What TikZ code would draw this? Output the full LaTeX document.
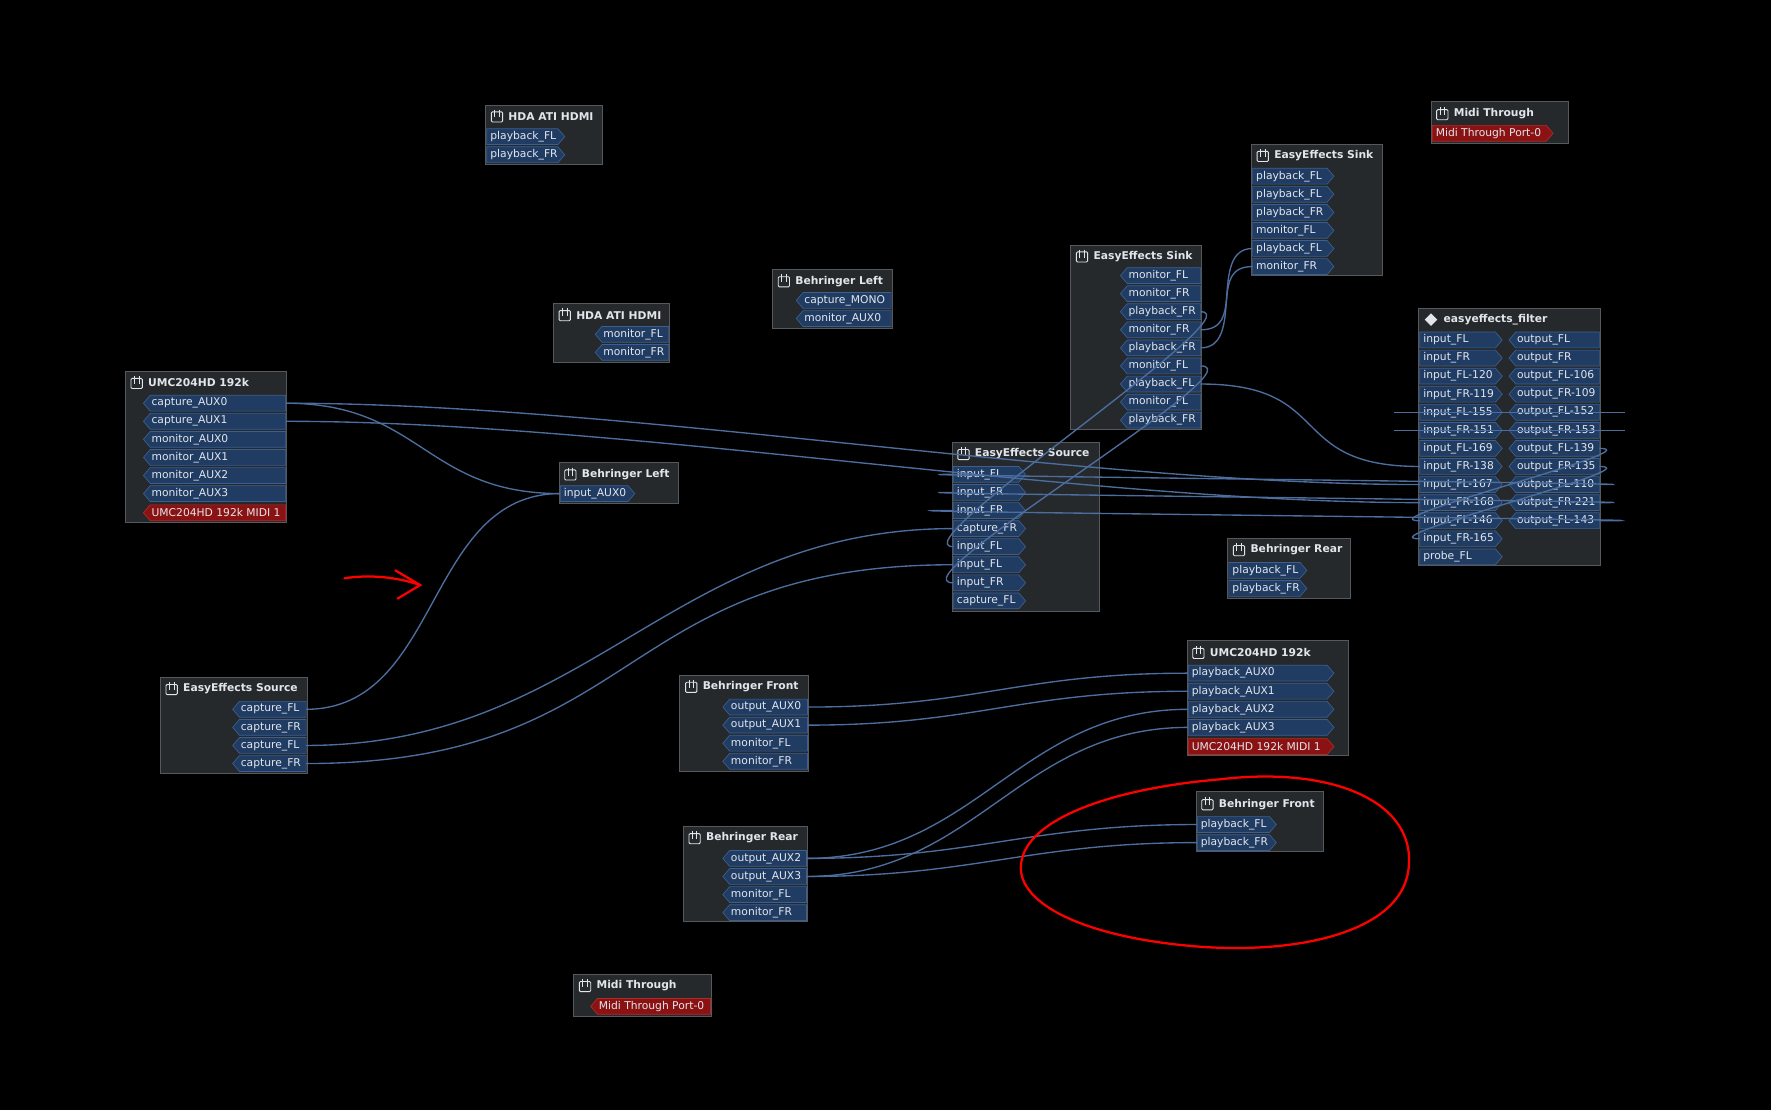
\documentclass[tikz,border=0pt]{standalone}
\usepackage{fontspec}
\setmainfont{DejaVu Sans}
\definecolor{bg}{HTML}{000000}
\definecolor{boxf}{HTML}{26292C}
\definecolor{boxd}{HTML}{55585C}
\definecolor{portf}{HTML}{213C63}
\definecolor{portd}{HTML}{3D5F8E}
\definecolor{redf}{HTML}{8A1212}
\definecolor{redd}{HTML}{B02A2A}
\definecolor{txt}{HTML}{E2E6EC}
\definecolor{cab}{HTML}{4C6E9E}
\tikzset{
 boxst/.style={fill=boxf,draw=boxd,line width=0.8pt},
 portst/.style={fill=portf,draw=portd,line width=0.6pt},
 redst/.style={fill=redf,draw=redd,line width=0.6pt},
 ptxt/.style={text=txt,font=\fontsize{9.5}{10}\selectfont,inner sep=0pt},
 ttxt/.style={text=txt,font=\fontsize{9.5}{10}\selectfont\bfseries,inner sep=0pt,anchor=west},
 cable/.style={draw=cab,line width=1.2pt},
 ann/.style={draw=red,line width=2pt,line cap=round}
}
% right pointed port: x1,x2,y,text,name,style
\newcommand\pR[6]{\draw[#6] (#1,#3-7) -- (#2-6,#3-7) -- (#2,#3) -- (#2-6,#3+7) -- (#1,#3+7) -- cycle;
 \node[ptxt,anchor=west] (#5) at (#1+3,#3) {#4};
 \coordinate (#5-l) at (#1,#3); \coordinate (#5-r) at (#2,#3);}
% left pointed port
\newcommand\pL[6]{\draw[#6] (#1+6,#3-7) -- (#2,#3-7) -- (#2,#3+7) -- (#1+6,#3+7) -- (#1,#3) -- cycle;
 \node[ptxt,anchor=west] (#5) at (#1+7,#3) {#4};
 \coordinate (#5-l) at (#1,#3); \coordinate (#5-r) at (#2,#3);}
% module: x1,y1,x2,y2,title,titley,name
\newcommand\modu[7]{\draw[boxst] (#1,#2) rectangle (#3,#4) coordinate (#7);
 \draw[txt,line width=0.8pt,rounded corners=1pt] (#1+5,#6-4) rectangle (#1+15,#6+5);
 \draw[txt,line width=0.7pt] (#1+8,#6-6) -- (#1+8,#6+1) (#1+12,#6-6) -- (#1+12,#6+1);
 \node[ttxt] (#7-t) at (#1+20,#6) {#5};}
\newcommand\cabk[3]{\draw[cable] (#1) .. controls +(#3,0) and +(-#3,0) .. (#2);}
\begin{document}
\begin{tikzpicture}[x=1pt,y=-1pt]
\fill[bg] (0,0) rectangle (1568,983);
\useasboundingbox (0,0) rectangle (1568,983);
% modules
\modu{430}{93}{533}{146}{HDA ATI HDMI}{103}{m1}
\pR{431}{500}{121}{playback\_FL}{a1}{portst}
\pR{431}{500}{137}{playback\_FR}{a2}{portst}
\modu{490}{269}{593}{321}{HDA ATI HDMI}{279}{m2}
\pL{527}{592}{296}{monitor\_FL}{b1}{portst}
\pL{527}{592}{312}{monitor\_FR}{b2}{portst}
\modu{684}{239}{790}{291}{Behringer Left}{249}{m3}
\pL{705}{789}{266}{capture\_MONO}{c1}{portst}
\pL{705}{789}{282}{monitor\_AUX0}{c2}{portst}
\modu{1267}{90}{1389}{127}{Midi Through}{101}{m4}
\pR{1268}{1375}{118}{Midi Through Port-0}{d1}{redst}
\modu{1108}{128}{1224}{244}{EasyEffects Sink}{138}{m5}
\pR{1109}{1181}{156}{playback\_FL}{e1}{portst}
\pR{1109}{1181}{172}{playback\_FL}{e2}{portst}
\pR{1109}{1181}{188}{playback\_FR}{e3}{portst}
\pR{1109}{1181}{204}{monitor\_FL}{e4}{portst}
\pR{1109}{1181}{220}{playback\_FL}{e5}{portst}
\pR{1109}{1181}{236}{monitor\_FR}{e6}{portst}
\modu{948}{217}{1064}{380}{EasyEffects Sink}{227}{m6}
\pL{992}{1063}{244}{monitor\_FL}{f1}{portst}
\pL{992}{1063}{260}{monitor\_FR}{f2}{portst}
\pL{992}{1063}{276}{playback\_FR}{f3}{portst}
\pL{992}{1063}{292}{monitor\_FR}{f4}{portst}
\pL{992}{1063}{308}{playback\_FR}{f5}{portst}
\pL{992}{1063}{324}{monitor\_FL}{f6}{portst}
\pL{992}{1063}{340}{playback\_FL}{f7}{portst}
\pL{992}{1063}{356}{monitor\_FL}{f8}{portst}
\pL{992}{1063}{372}{playback\_FR}{f9}{portst}
% filter
\draw[boxst] (1256,273) rectangle (1417,501) coordinate (m7);
\draw[txt,line width=0.8pt,fill=txt] (1267,278) -- (1272,283) -- (1267,288) -- (1262,283) -- cycle;
\node[ttxt] (m7-t) at (1278,283) {easyeffects\_filter};
\pR{1257}{1330}{301}{input\_FL}{g1}{portst}
\pR{1257}{1330}{317}{input\_FR}{g2}{portst}
\pR{1257}{1330}{333}{input\_FL-120}{g3}{portst}
\pR{1257}{1330}{349}{input\_FR-119}{g4}{portst}
\pR{1257}{1330}{365}{input\_FL-155}{g5}{portst}
\pR{1257}{1330}{381}{input\_FR-151}{g6}{portst}
\pR{1257}{1330}{397}{input\_FL-169}{g7}{portst}
\pR{1257}{1330}{413}{input\_FR-138}{g8}{portst}
\pR{1257}{1330}{429}{input\_FL-167}{g9}{portst}
\pR{1257}{1330}{445}{input\_FR-168}{g10}{portst}
\pR{1257}{1330}{461}{input\_FL-146}{g11}{portst}
\pR{1257}{1330}{477}{input\_FR-165}{g12}{portst}
\pR{1257}{1330}{493}{probe\_FL}{g13}{portst}
\pL{1336}{1416}{301}{output\_FL}{h1}{portst}
\pL{1336}{1416}{317}{output\_FR}{h2}{portst}
\pL{1336}{1416}{333}{output\_FL-106}{h3}{portst}
\pL{1336}{1416}{349}{output\_FR-109}{h4}{portst}
\pL{1336}{1416}{365}{output\_FL-152}{h5}{portst}
\pL{1336}{1416}{381}{output\_FR-153}{h6}{portst}
\pL{1336}{1416}{397}{output\_FL-139}{h7}{portst}
\pL{1336}{1416}{413}{output\_FR-135}{h8}{portst}
\pL{1336}{1416}{429}{output\_FL-110}{h9}{portst}
\pL{1336}{1416}{445}{output\_FR-221}{h10}{portst}
\pL{1336}{1416}{461}{output\_FL-143}{h11}{portst}
\modu{111}{329}{254}{463}{UMC204HD 192k}{339}{m8}
\pL{127}{253}{357}{capture\_AUX0}{i1}{portst}
\pL{127}{253}{373}{capture\_AUX1}{i2}{portst}
\pL{127}{253}{389}{monitor\_AUX0}{i3}{portst}
\pL{127}{253}{405}{monitor\_AUX1}{i4}{portst}
\pL{127}{253}{421}{monitor\_AUX2}{i5}{portst}
\pL{127}{253}{437}{monitor\_AUX3}{i6}{portst}
\pL{127}{253}{454}{UMC204HD 192k MIDI 1}{i7}{redst}
\modu{495}{409}{601}{446}{Behringer Left}{420}{m9}
\pR{496}{562}{437}{input\_AUX0}{j1}{portst}
\modu{843}{392}{973}{541}{EasyEffects Source}{402}{m10}
\pR{844}{908}{420}{input\_FL}{k1}{portst}
\pR{844}{908}{436}{input\_FR}{k2}{portst}
\pR{844}{908}{452}{input\_FR}{k3}{portst}
\pR{844}{908}{468}{capture\_FR}{k4}{portst}
\pR{844}{908}{484}{input\_FL}{k5}{portst}
\pR{844}{908}{500}{input\_FL}{k6}{portst}
\pR{844}{908}{516}{input\_FR}{k7}{portst}
\pR{844}{908}{532}{capture\_FL}{k8}{portst}
\modu{1087}{477}{1196}{530}{Behringer Rear}{487}{m11}
\pR{1088}{1157}{505}{playback\_FL}{l1}{portst}
\pR{1088}{1157}{521}{playback\_FR}{l2}{portst}
\modu{142}{600}{272}{685}{EasyEffects Source}{610}{m12}
\pL{206}{271}{628}{capture\_FL}{n1}{portst}
\pL{206}{271}{644}{capture\_FR}{n2}{portst}
\pL{206}{271}{660}{capture\_FL}{n3}{portst}
\pL{206}{271}{676}{capture\_FR}{n4}{portst}
\modu{602}{598}{716}{683}{Behringer Front}{608}{m13}
\pL{640}{715}{626}{output\_AUX0}{o1}{portst}
\pL{640}{715}{642}{output\_AUX1}{o2}{portst}
\pL{640}{715}{658}{monitor\_FL}{o3}{portst}
\pL{640}{715}{674}{monitor\_FR}{o4}{portst}
\modu{1051}{567}{1194}{669}{UMC204HD 192k}{578}{m14}
\pR{1052}{1181}{596}{playback\_AUX0}{p1}{portst}
\pR{1052}{1181}{612}{playback\_AUX1}{p2}{portst}
\pR{1052}{1181}{628}{playback\_AUX2}{p3}{portst}
\pR{1052}{1181}{644}{playback\_AUX3}{p4}{portst}
\pR{1052}{1181}{661}{UMC204HD 192k MIDI 1}{p5}{redst}
\modu{1059}{701}{1172}{754}{Behringer Front}{712}{m15}
\pR{1060}{1130}{730}{playback\_FL}{q1}{portst}
\pR{1060}{1130}{746}{playback\_FR}{q2}{portst}
\modu{605}{732}{715}{816}{Behringer Rear}{742}{m16}
\pL{640}{714}{760}{output\_AUX2}{r1}{portst}
\pL{640}{714}{776}{output\_AUX3}{r2}{portst}
\pL{640}{714}{792}{monitor\_FL}{r3}{portst}
\pL{640}{714}{808}{monitor\_FR}{r4}{portst}
\modu{508}{863}{630}{900}{Midi Through}{873}{m17}
\pL{523}{629}{891}{Midi Through Port-0}{s1}{redst}
% cables
\cabk{i1-r}{j1-l}{120}
\cabk{i1-r}{g9-l}{300}
\cabk{i2-r}{g10-l}{300}
\cabk{n1-r}{j1-l}{120}
\cabk{n3-r}{k4-l}{250}
\cabk{n4-r}{k6-l}{300}
\cabk{o1-r}{p1-l}{150}
\cabk{o2-r}{p2-l}{150}
\cabk{r1-r}{p3-l}{150}
\cabk{r2-r}{p4-l}{150}
\cabk{r1-r}{q1-l}{150}
\cabk{r2-r}{q2-l}{150}
\cabk{f4-r}{e6-l}{40}
\cabk{f5-r}{e5-l}{40}
\cabk{f3-r}{k5-l}{50}
\cabk{f6-r}{k7-l}{55}
\cabk{f7-r}{g8-l}{120}
\cabk{h5-r}{g5-l}{120}
\cabk{h6-r}{g6-l}{120}
\cabk{h7-r}{g11-l}{50}
\cabk{h8-r}{g12-l}{50}
\cabk{h9-r}{k1-l}{120}
\cabk{h10-r}{k2-l}{120}
\cabk{h11-r}{k3-l}{160}
% annotations
\draw[ann] (305,512) .. controls (330,508) and (355,512) .. (372,518);
\draw[ann] (350,505) -- (372,518) -- (352,530);
\draw[ann] (1080,690) .. controls (1180,678) and (1255,710) .. (1247,770) .. controls (1240,825) and (1150,845) .. (1060,838) .. controls (960,830) and (900,800) .. (904,765) .. controls (908,725) and (985,698) .. (1080,690);
\end{tikzpicture}
\end{document}
